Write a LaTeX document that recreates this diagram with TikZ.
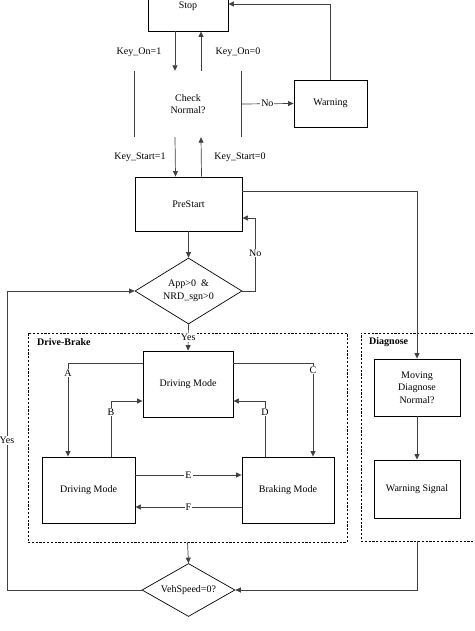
\documentclass[tikz,border=0pt]{standalone}
\usepackage{fontspec}
\setmainfont{Liberation Serif}
\usetikzlibrary{arrows.meta,shapes.geometric,calc}
\begin{document}
\begin{tikzpicture}[x=1pt,y=-1pt,
  font=\fontsize{10}{12.5}\selectfont,
  box/.style={draw=black,line width=0.9pt,align=center,inner sep=0pt},
  dia/.style={draw=black,line width=0.7pt,shape=diamond,align=center,inner sep=0pt},
  dashbox/.style={draw=black,line width=0.7pt,dash pattern=on 2.2pt off 1.6pt,inner sep=0pt},
  arr/.style={draw=black!75,line width=0.7pt,-{Triangle[length=5.5pt,width=5pt]}},
  lnk/.style={draw=black!75,line width=0.7pt},
  lab/.style={fill=white,inner sep=1pt},
  ttl/.style={font=\fontsize{10}{12}\selectfont\bfseries,anchor=west,inner sep=0pt}]
\clip (0,0) rectangle (474,631);
% nodes
\node[box,minimum width=80,minimum height=56] (stop) at (188,3) {};
\node[inner sep=0pt] (stopt) at (188,6.5) {Stop};
\node[align=center,inner sep=0pt,minimum width=106,minimum height=66] (chk) at (188,104) {Check\\Normal?};
\draw[lnk] (chk.north west) -- (chk.south west);
\draw[lnk] (chk.north east) -- (chk.south east);
\node[box,minimum width=73,minimum height=47] (warn) at (330.5,103.5) {Warning};
\node[box,minimum width=107,minimum height=54] (pre) at (188.5,204) {PreStart};
\node[dia,aspect=1.6,minimum width=107,minimum height=66] (app) at (188.5,291) {App\textgreater0\ \ \&\\NRD\_sgn\textgreater0};
\node[dashbox,minimum width=319,minimum height=209] (drv) at (187.5,437.5) {};
\node[dashbox,minimum width=119,minimum height=208] (diag) at (420.5,437) {};
\node[ttl] (drvt) at (37,342) {Drive-Brake};
\node[ttl] (diagt) at (369,342) {Diagnose};
\node[box,minimum width=90,minimum height=66] (dm) at (188,384) {Driving Mode};
\node[box,minimum width=93,minimum height=66] (dl) at (88.5,490) {Driving Mode};
\node[box,minimum width=92,minimum height=66] (bm) at (288,490) {Braking Mode};
\node[box,minimum width=86,minimum height=57] (mdn) at (417,387.5) {Moving\\Diagnose\\Normal?};
\node[box,minimum width=86,minimum height=58] (ws) at (417,489) {Warning Signal};
\node[dia,aspect=1.75,minimum width=93,minimum height=53] (veh) at (188.5,590) {VehSpeed=0?};
\coordinate (yl) at (7,590);
\coordinate (yu) at (7,291);
% labels
\node (k1) at (139,52) {Key\_On=1};
\node (k0) at (238,52) {Key\_On=0};
\node (s1) at (140,157) {Key\_Start=1};
\node (s0) at (240,157) {Key\_Start=0};
% connectors
\draw[arr] (warn.north) |- ([yshift=-1pt]stop.east);
\draw[arr] ([xshift=-13pt]stop.south) -- ([xshift=-13pt]chk.north);
\draw[arr] ([xshift=13pt]chk.north) -- ([xshift=13pt]stop.south);
\draw[arr] (chk.east) -- node[lab]{No} (warn.west);
\draw[arr] ([xshift=-13pt]chk.south) -- ([xshift=-13pt]pre.north);
\draw[arr] ([xshift=13pt]pre.north) -- ([xshift=13pt]chk.south);
\draw[arr] ([yshift=13pt]pre.east) -| (mdn.north);
\draw[arr] (pre.south) -- (app.north);
\draw[arr] (app.east) -- ++(13,0) |- node[lab,pos=0.26]{No} ([yshift=-14pt]pre.east);
\draw[arr] (app.south) -- node[lab]{Yes} (dm.north);
\draw[arr] ([yshift=21pt]dm.west) -| node[lab,pos=0.553]{A} ([xshift=-20.5pt]dl.north);
\draw[arr] ([yshift=21pt]dm.east) -| node[lab,pos=0.537]{C} ([xshift=25pt]bm.north);
\draw[arr] ([xshift=22.5pt]dl.north) |- node[lab,pos=0.4]{B} ([yshift=-17pt]dm.west);
\draw[arr] ([xshift=-23pt]bm.north) |- node[lab,pos=0.4]{D} ([yshift=-17pt]dm.east);
\draw[arr] ([yshift=15pt]dl.east) -- node[lab]{E} ([yshift=15pt]bm.west);
\draw[arr] ([yshift=-17pt]bm.west) -- node[lab]{F} ([yshift=-17pt]dl.east);
\draw[arr] (mdn.south) -- (ws.north);
\draw[arr] (drv.south) -- (veh.north);
\draw[arr] (diag.south -| mdn.south) |- (veh.east);
\draw[arr] (veh.west) -- (yl) -- node[lab]{Yes} (yu) -- (app.west);
\end{tikzpicture}
\end{document}
